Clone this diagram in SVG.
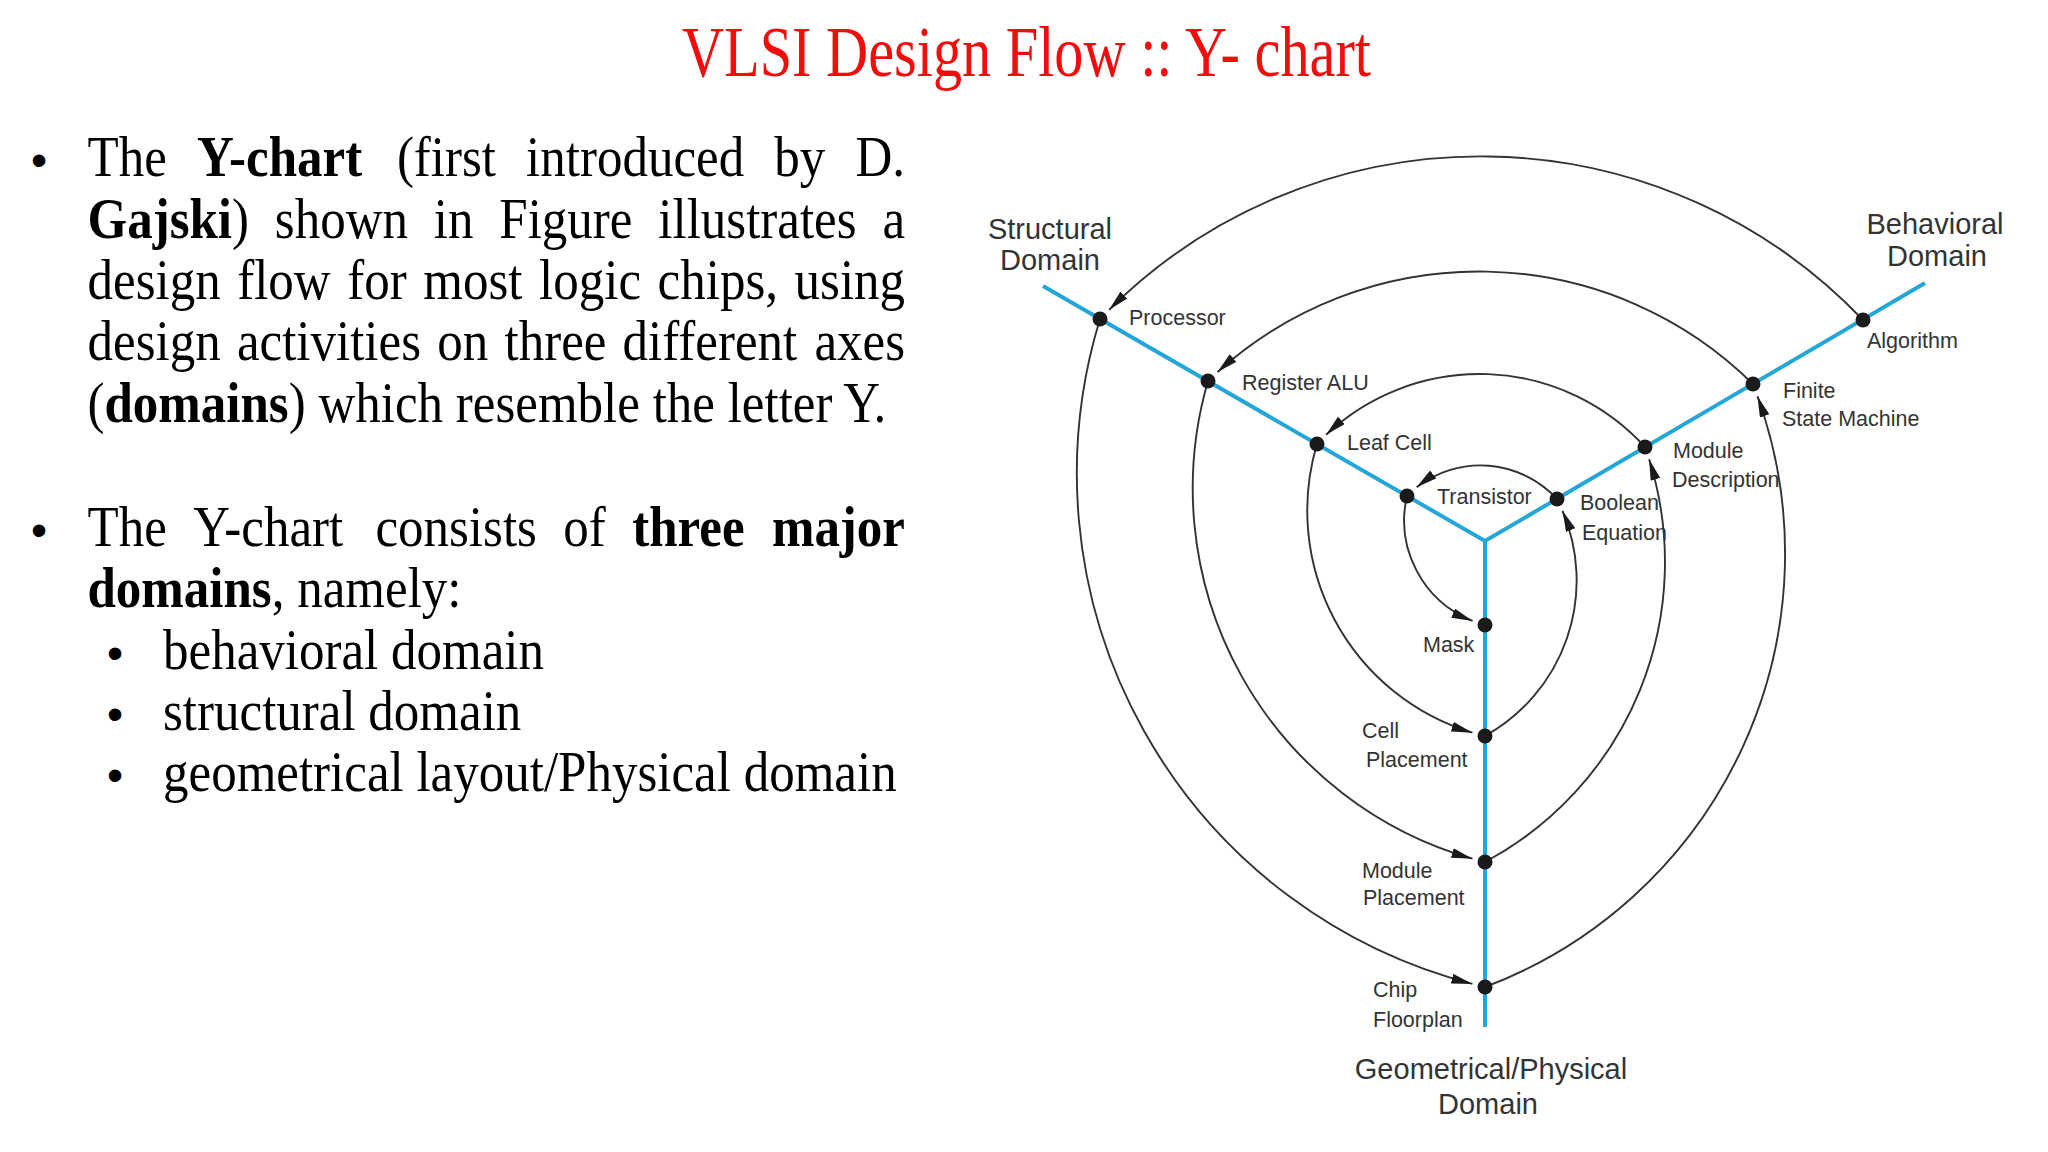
<svg xmlns="http://www.w3.org/2000/svg" width="2048" height="1152" viewBox="0 0 2048 1152">
<style>
.title{font-family:"Liberation Serif","Times New Roman",serif;font-size:71px;fill:#f20d0d}
.body{font-family:"Liberation Serif","Times New Roman",serif;font-size:51px;fill:#000}
.bul{font-family:"Liberation Sans",Arial,sans-serif;font-size:46px;fill:#000;text-anchor:middle}
.b{font-weight:bold}
.lbl{font-family:"Liberation Sans",Arial,sans-serif;font-size:21.5px;fill:#333}
.dom{font-family:"Liberation Sans",Arial,sans-serif;font-size:29px;fill:#333;text-anchor:middle}
.axis{fill:none;stroke:#25a6d9;stroke-width:4;stroke-linejoin:miter}
.arc{fill:none;stroke:#333;stroke-width:1.9;marker-end:url(#arr)}
.dot{fill:#1a1a1a}
</style>
<defs>
<marker id="arr" markerUnits="userSpaceOnUse" markerWidth="21" markerHeight="10" refX="21" refY="5" orient="auto">
<path d="M0,0 L21,5 L0,10 z" fill="#1a1a1a"/>
</marker>
</defs>
<rect width="2048" height="1152" fill="#fff"/>

<text class="title" x="682" y="76" textLength="689" lengthAdjust="spacingAndGlyphs">VLSI Design Flow :: Y- chart</text>

<g id="text-left">
<text class="bul" x="39" y="176">•</text>
<text class="body" y="176" transform="matrix(1,0,0,1.1,0,-17.6)"><tspan x="87.5">The</tspan><tspan x="196.9" class="b">Y-chart</tspan><tspan x="396.9">(first</tspan><tspan x="526.1">introduced</tspan><tspan x="774.3">by</tspan><tspan x="855.4">D.</tspan></text>
<text class="body" y="238" transform="matrix(1,0,0,1.1,0,-23.8)"><tspan x="87.5" class="b">Gajski</tspan><tspan>)</tspan><tspan x="274.8">shown</tspan><tspan x="433.8">in</tspan><tspan x="499.3">Figure</tspan><tspan x="658.3">illustrates</tspan><tspan x="882.4">a</tspan></text>
<text class="body" y="299" transform="matrix(1,0,0,1.1,0,-29.9)"><tspan x="87.5">design</tspan><tspan x="237.2">flow</tspan><tspan x="347.3">for</tspan><tspan x="423.3">most</tspan><tspan x="539.1">logic</tspan><tspan x="657.6">chips,</tspan><tspan x="794.6">using</tspan></text>
<text class="body" y="360" transform="matrix(1,0,0,1.1,0,-36)"><tspan x="87.5">design</tspan><tspan x="236.9">activities</tspan><tspan x="437.3">on</tspan><tspan x="504.5">three</tspan><tspan x="622.6">different</tspan><tspan x="814.4">axes</tspan></text>
<text class="body" x="87.5" y="422" transform="matrix(1,0,0,1.1,0,-42.2)">(<tspan class="b">domains</tspan>) which resemble the letter Y.</text>

<text class="bul" x="39" y="546">•</text>
<text class="body" y="546" transform="matrix(1,0,0,1.1,0,-54.6)"><tspan x="87.5">The</tspan><tspan x="193.2">Y-chart</tspan><tspan x="375.4">consists</tspan><tspan x="563.3">of</tspan><tspan x="632.2" class="b">three</tspan><tspan x="771.9" class="b">major</tspan></text>
<text class="body" x="87.5" y="607" transform="matrix(1,0,0,1.1,0,-60.7)"><tspan class="b">domains</tspan>, namely:</text>
<text class="bul" x="115" y="669">•</text>
<text class="body" x="163" y="669" transform="matrix(1,0,0,1.1,0,-66.9)">behavioral domain</text>
<text class="bul" x="115" y="730">•</text>
<text class="body" x="163" y="730" transform="matrix(1,0,0,1.1,0,-73)">structural domain</text>
<text class="bul" x="115" y="791">•</text>
<text class="body" x="163" y="791" transform="matrix(1,0,0,1.1,0,-79.1)">geometrical layout/Physical domain</text>
</g>

<g id="axes">
<path class="axis" d="M1043,286 L1485,541 L1925,283 M1485,541 V1027"/>
<text class="dom" x="1050" y="239">Structural</text>
<text class="dom" x="1050" y="270">Domain</text>
<text class="dom" x="1935" y="234">Behavioral</text>
<text class="dom" x="1937" y="266">Domain</text>
<text class="dom" x="1491" y="1079">Geometrical/Physical</text>
<text class="dom" x="1488" y="1114">Domain</text>
</g>

<g id="connectors">
<path class="arc" d="M1863,320 A527.6,527.6 0 0 0 1109.1,309.8"/>
<path class="arc" d="M1753,384 A390,390 0 0 0 1217.5,372.1"/>
<path class="arc" d="M1645,447 A224,224 0 0 0 1326.1,434.8"/>
<path class="arc" d="M1557,499 A104,104 0 0 0 1416.6,487.3"/>
<path class="arc" d="M1100,319 A527,527 0 0 0 1472.4,983.9"/>
<path class="arc" d="M1208,381 A385,385 0 0 0 1472.5,858.7"/>
<path class="arc" d="M1317,444 A232,232 0 0 0 1472.4,732.7"/>
<path class="arc" d="M1407,496 A108,108 0 0 0 1472.6,620.9"/>
<path class="arc" d="M1485,987 A463,463 0 0 0 1757.5,396.2"/>
<path class="arc" d="M1485,862 A340,340 0 0 0 1649.1,459.3"/>
<path class="arc" d="M1485,736 A178,178 0 0 0 1562.5,510.8"/>
</g>

<g id="node-processor"><circle class="dot" cx="1100" cy="319" r="7.5"/><text class="lbl" x="1129" y="325">Processor</text></g>
<g id="node-register-alu"><circle class="dot" cx="1208" cy="381" r="7.5"/><text class="lbl" x="1242" y="390">Register ALU</text></g>
<g id="node-leaf-cell"><circle class="dot" cx="1317" cy="444" r="7.5"/><text class="lbl" x="1347" y="450">Leaf Cell</text></g>
<g id="node-transistor"><circle class="dot" cx="1407" cy="496" r="7.5"/><text class="lbl" x="1437" y="504">Transistor</text></g>
<g id="node-boolean-equation"><circle class="dot" cx="1557" cy="499" r="7.5"/><text class="lbl" x="1580" y="510">Boolean</text><text class="lbl" x="1582" y="540">Equation</text></g>
<g id="node-module-description"><circle class="dot" cx="1645" cy="447" r="7.5"/><text class="lbl" x="1673" y="458">Module</text><text class="lbl" x="1672" y="487">Description</text></g>
<g id="node-fsm"><circle class="dot" cx="1753" cy="384" r="7.5"/><text class="lbl" x="1783" y="398">Finite</text><text class="lbl" x="1782" y="426">State Machine</text></g>
<g id="node-algorithm"><circle class="dot" cx="1863" cy="320" r="7.5"/><text class="lbl" x="1867" y="348">Algorithm</text></g>
<g id="node-mask"><circle class="dot" cx="1485" cy="625" r="7.5"/><text class="lbl" x="1423" y="652">Mask</text></g>
<g id="node-cell-placement"><circle class="dot" cx="1485" cy="736" r="7.5"/><text class="lbl" x="1362" y="738">Cell</text><text class="lbl" x="1366" y="767">Placement</text></g>
<g id="node-module-placement"><circle class="dot" cx="1485" cy="862" r="7.5"/><text class="lbl" x="1362" y="878">Module</text><text class="lbl" x="1363" y="905">Placement</text></g>
<g id="node-chip-floorplan"><circle class="dot" cx="1485" cy="987" r="7.5"/><text class="lbl" x="1373" y="997">Chip</text><text class="lbl" x="1373" y="1027">Floorplan</text></g>
</svg>
